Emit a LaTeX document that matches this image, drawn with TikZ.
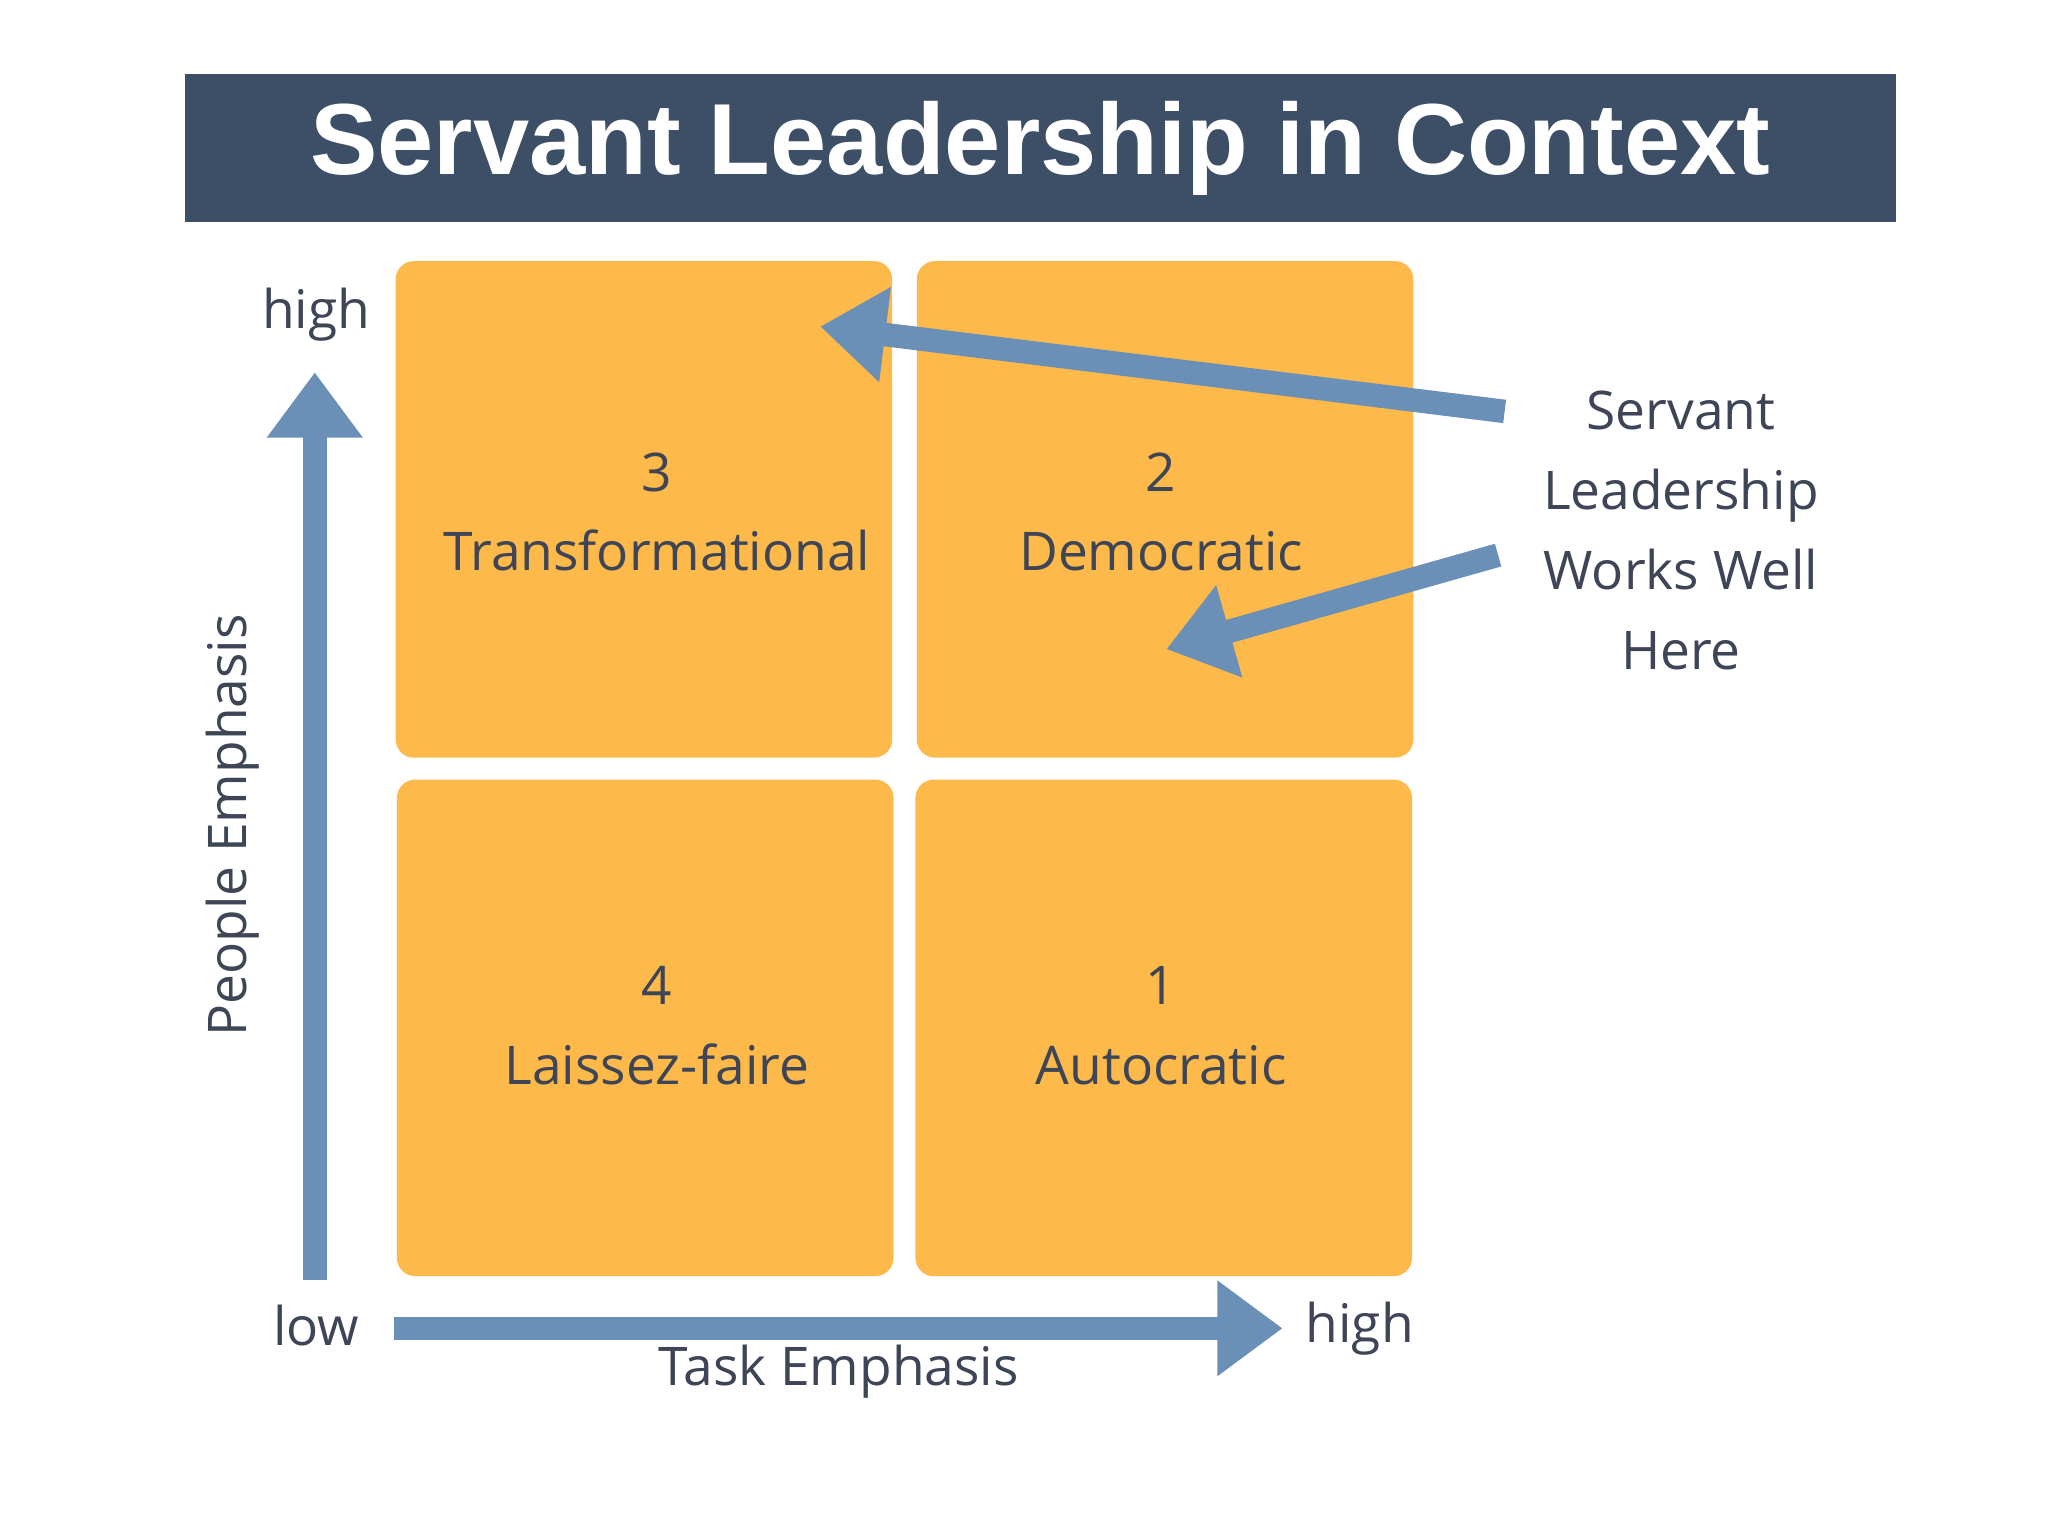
\documentclass[tikz,border=0pt]{standalone}
\usepackage{fontspec}
\setmainfont{Open Sans}
\newfontfamily\titlefont{Liberation Sans}
\usetikzlibrary{arrows.meta}
\definecolor{titlebg}{HTML}{3D4F66}
\definecolor{boxc}{HTML}{FDB94A}
\definecolor{txt}{HTML}{3D4556}
\definecolor{arr}{HTML}{6A90B8}
\begin{document}
\begin{tikzpicture}[x=0.01cm,y=-0.01cm,
  quad/.style={fill=boxc,rounded corners=4pt,minimum width=3.8cm,minimum height=3.8cm},
  lbl/.style={text=txt,font=\fontsize{11.6}{17.4}\selectfont,align=center},
  fat/.style={draw=arr,line width=0.18cm,-{Triangle[width=0.7cm,length=0.5cm]}}]
\useasboundingbox (0,0) rectangle (1568,1176);
\fill[white] (0,0) rectangle (1568,1176);
\node[fill=titlebg,minimum width=13.09cm,minimum height=1.13cm,text=white,font=\titlefont\fontsize{22}{26}\bfseries\selectfont] (title) at (796.5,113.5) {Servant Leadership in Context};
\node[quad] (q3) at (493,390) {};
\node[quad] (q2) at (892,390) {};
\node[quad] (q4) at (494,787) {};
\node[quad] (q1) at (891,787) {};
\node[lbl] (t3) at (503,392) {3\\Transformational};
\node[lbl] (t2) at (889,392) {2\\Democratic};
\node[lbl] (t4) at (503,785) {4\\Laissez-faire};
\node[lbl] (t1) at (889,785) {1\\Autocratic};
\coordinate (vs) at (241,980);
\coordinate (ve) at (241,285);
\coordinate (hs) at (302,1017);
\coordinate (he) at (982,1017);
\draw[fat] (vs) -- (ve);
\draw[fat] (hs) -- (he);
\node[lbl] (hy) at (242,241) {high};
\node[lbl] (lo) at (242,1015) {low};
\node[lbl] (hx) at (1041,1017) {high};
\node[lbl] (tx) at (642,1050) {Task Emphasis};
\node[lbl,rotate=90] (py) at (178,632) {People Emphasis};
\node[lbl] (sl) at (1287,406) {Servant\\Leadership\\Works Well\\Here};
\coordinate (a1s) at (1152,315);
\coordinate (a1e) at (628,250);
\coordinate (a2s) at (1147,425);
\coordinate (a2e) at (893,497);
\draw[fat] (a1s) -- (a1e);
\draw[fat] (a2s) -- (a2e);
\end{tikzpicture}
\end{document}
